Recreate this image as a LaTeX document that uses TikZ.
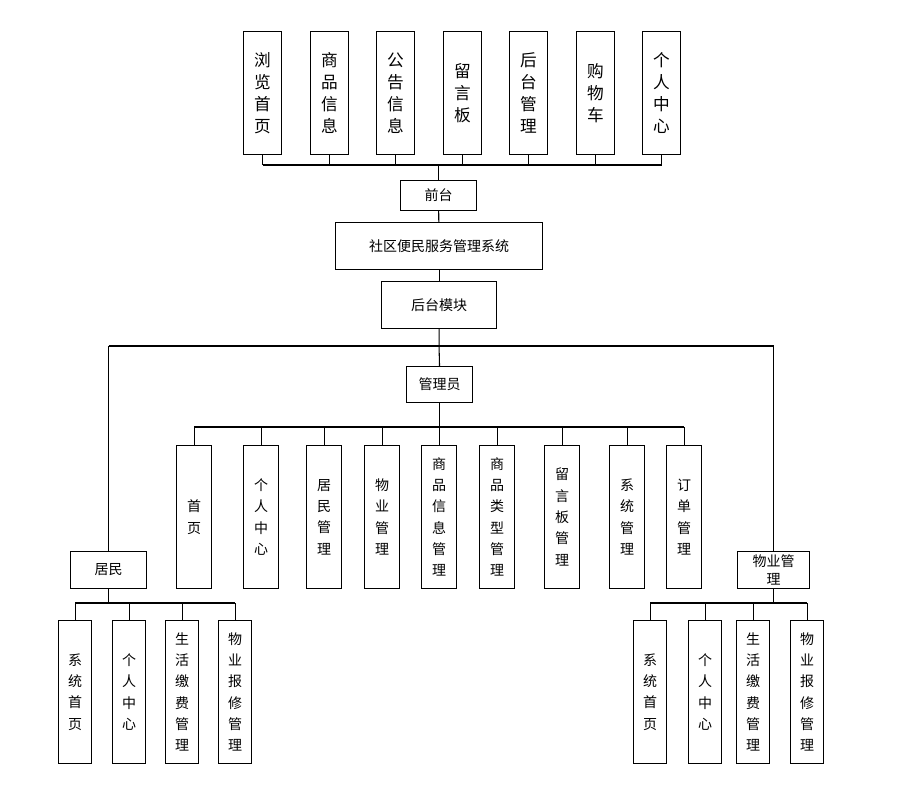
\documentclass[tikz,border=0pt]{standalone}
\usepackage{fontspec}
\setmainfont{Noto Sans CJK SC}
\begin{document}
\begin{tikzpicture}[x=0.75pt,y=-0.75pt,line width=0.8pt,
 bx/.style={draw,inner sep=0pt,anchor=north west,align=center},
 ln/.style={draw,line width=0.8pt}]
\useasboundingbox (0,0) rectangle (917,801);
\newcommand{\bxx}[7]{\node[bx,minimum width=#3*0.75pt,minimum height=#4*0.75pt,font=#6] (#5) at (#1,#2) {#7};}
\def\tf{\fontsize{12.5}{16.5}\selectfont}
\def\sf{\fontsize{10.5}{16}\selectfont}
% top
\bxx{243}{31}{38}{123}{t1}{\tf}{浏\\览\\首\\页}
\bxx{310}{31}{38}{123}{t2}{\tf}{商\\品\\信\\息}
\bxx{376}{31}{38}{123}{t3}{\tf}{公\\告\\信\\息}
\bxx{443}{31}{38}{123}{t4}{\tf}{留\\言\\板}
\bxx{509}{31}{38}{123}{t5}{\tf}{后\\台\\管\\理}
\bxx{576}{31}{38}{123}{t6}{\tf}{购\\物\\车}
\bxx{642}{31}{38}{123}{t7}{\tf}{个\\人\\中\\心}
\bxx{400}{180}{76}{30}{qt}{\sf}{前台}
\bxx{335}{222}{207}{47}{sys}{\sf}{社区便民服务管理系统}
\bxx{381}{281}{115}{47}{ht}{\sf}{后台模块}
\bxx{406}{366}{66}{36}{gly}{\sf}{管理员}
\bxx{70}{551}{76}{37}{jm}{\sf}{居民}
\bxx{737}{551}{72}{37}{wy}{\fontsize{10.5}{13}\selectfont}{物业管\\理}
% admin children
\def\mh{143}
\bxx{176}{445}{35}{\mh}{a1}{\sf}{首\\页}
\bxx{243}{445}{35}{\mh}{a2}{\sf}{个\\人\\中\\心}
\bxx{306}{445}{35}{\mh}{a3}{\sf}{居\\民\\管\\理}
\bxx{364}{445}{35}{\mh}{a4}{\sf}{物\\业\\管\\理}
\bxx{421}{445}{35}{\mh}{a5}{\sf}{商\\品\\信\\息\\管\\理}
\bxx{479}{445}{35}{\mh}{a6}{\sf}{商\\品\\类\\型\\管\\理}
\bxx{544}{445}{35}{\mh}{a7}{\sf}{留\\言\\板\\管\\理}
\bxx{609}{445}{35}{\mh}{a8}{\sf}{系\\统\\管\\理}
\bxx{666}{445}{35}{\mh}{a9}{\sf}{订\\单\\管\\理}
% resident children
\bxx{58}{620}{33}{143}{r1}{\sf}{系\\统\\首\\页}
\bxx{112}{620}{33}{143}{r2}{\sf}{个\\人\\中\\心}
\bxx{165}{620}{33}{143}{r3}{\sf}{生\\活\\缴\\费\\管\\理}
\bxx{218}{620}{33}{143}{r4}{\sf}{物\\业\\报\\修\\管\\理}
\bxx{633}{620}{33}{143}{w1}{\sf}{系\\统\\首\\页}
\bxx{688}{620}{33}{143}{w2}{\sf}{个\\人\\中\\心}
\bxx{736}{620}{33}{143}{w3}{\sf}{生\\活\\缴\\费\\管\\理}
\bxx{790}{620}{33}{143}{w4}{\sf}{物\\业\\报\\修\\管\\理}
% connectors top
\foreach \n in {t1,t2,t3,t4,t5,t6,t7} \draw (\n.south) -- (\n.south |- 0,165);
\draw (t1.south |- 0,165) -- (t7.south |- 0,165);
\draw (qt.north |- 0,165) -- (qt.north);
\draw (qt) -- (sys);
\draw (sys) -- (ht);
\coordinate (hb) at (ht.south |- 0,346);
\draw (ht.south) -- (hb) -- (gly.north);
\draw (jm.north |- 0,346) -- (wy.north |- 0,346);
\draw (jm.north |- 0,346) -- (jm.north);
\draw (wy.north |- 0,346) -- (wy.north);
% admin bus
\draw (gly.south) -- (gly.south |- 0,427);
\draw (a1.north |- 0,427) -- (a9.north |- 0,427);
\foreach \n in {a1,a2,a3,a4,a5,a6,a7,a8,a9} \draw (\n.north |- 0,427) -- (\n.north);
% resident bus
\draw (jm.south) -- (jm.south |- 0,603);
\draw (r1.north |- 0,603) -- (r4.north |- 0,603);
\foreach \n in {r1,r2,r3,r4} \draw (\n.north |- 0,603) -- (\n.north);
\draw (wy.south) -- (wy.south |- 0,603);
\draw (w1.north |- 0,603) -- (w4.north |- 0,603);
\foreach \n in {w1,w2,w3,w4} \draw (\n.north |- 0,603) -- (\n.north);
\end{tikzpicture}
\end{document}
